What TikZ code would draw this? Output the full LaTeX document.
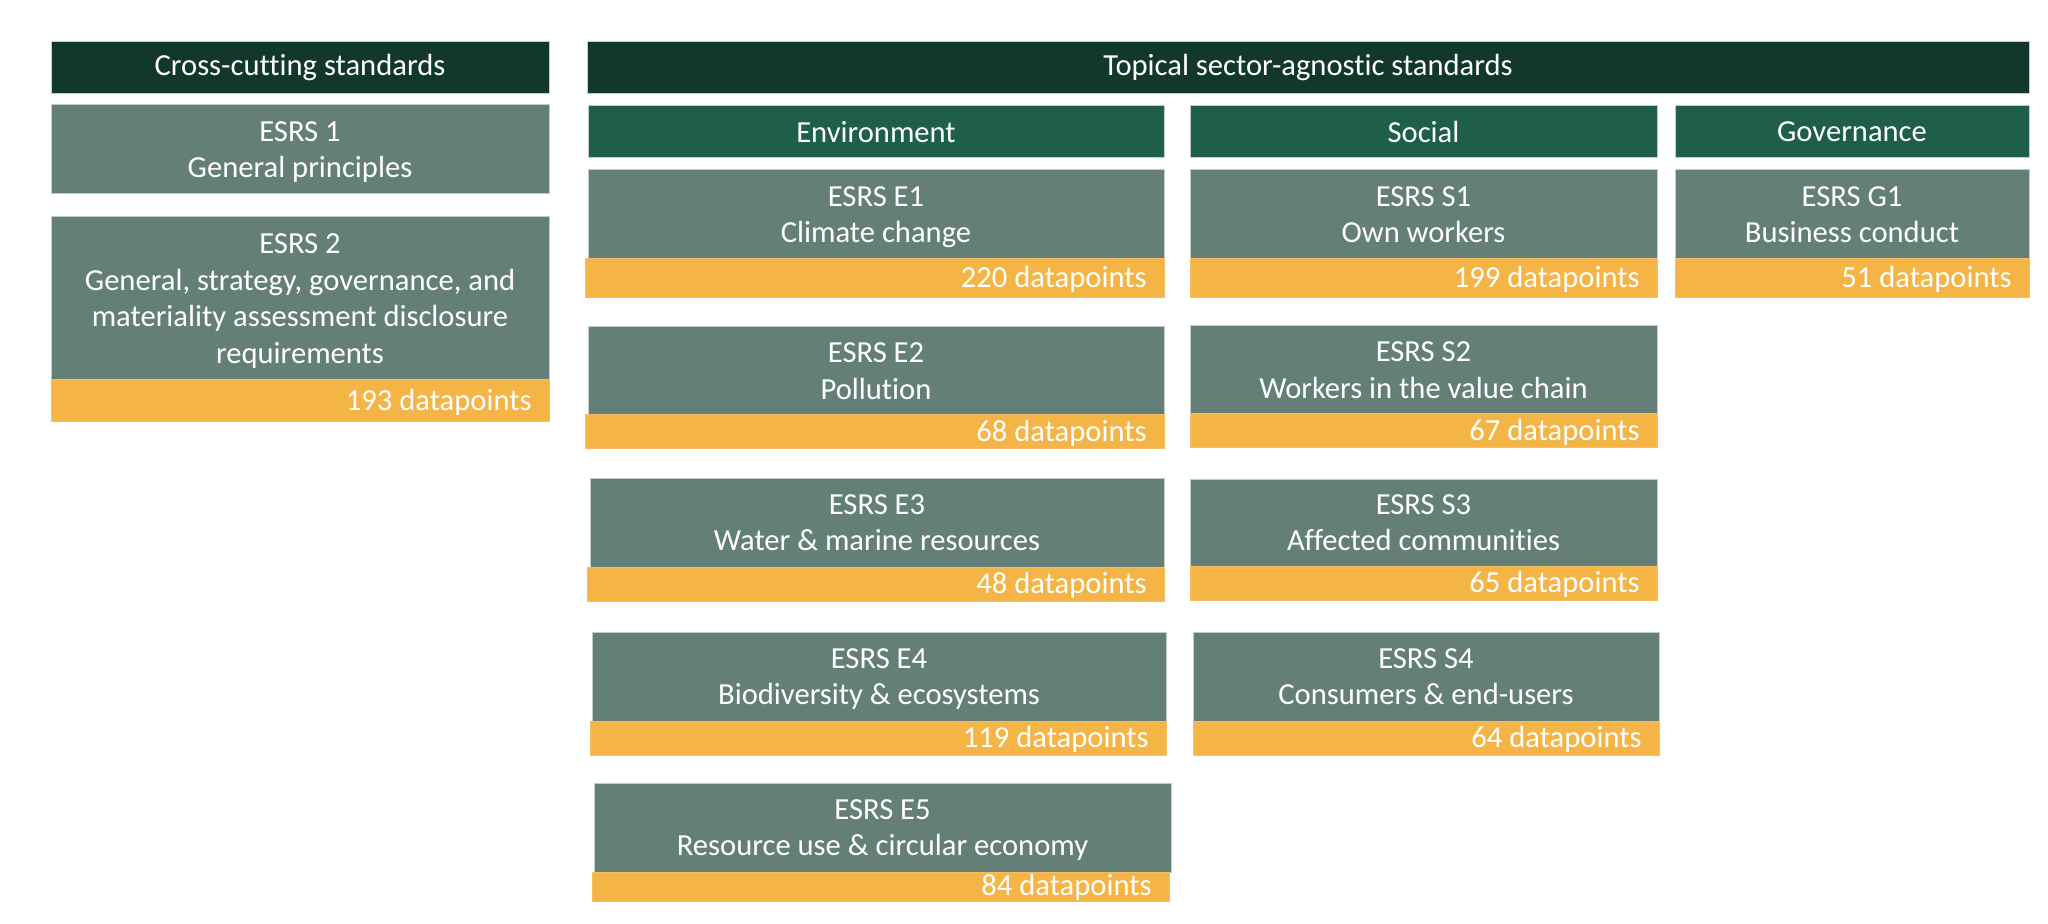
\documentclass[tikz,border=0pt]{standalone}
\usepackage{fontspec}
\setmainfont{Carlito}[Ligatures={NoCommon}]
\definecolor{hdark}{HTML}{12382A}
\definecolor{hsec}{HTML}{1F5F48}
\definecolor{cardgray}{HTML}{647F77}
\definecolor{dporange}{HTML}{F5B446}
\definecolor{edge}{HTML}{C3CCC8}
\newcommand\rbox[7]{\node[#1, minimum width={(#5-#3)*0.5pt}, minimum height={(#6-#4)*0.5pt}] (#2) at ({(#3+#5)/2},{(#4+#6)/2}) {#7};}
\newcommand\dpcount[2]{\node[dptext, anchor=east] (#1t) at ([xshift=-8.5pt,yshift=-0.5pt]#1.east) {#2};}
\tikzset{
  base/.style={rectangle, inner sep=0pt, outer sep=0pt, draw=edge, line width=0.5pt,
    text=white, align=center, font=\fontsize{15.3}{18.3}\selectfont},
  topbox/.style={base, fill=hdark},
  secbox/.style={base, fill=hsec},
  card/.style={base, fill=cardgray, text depth=0pt},
  bar/.style={base, fill=dporange, draw=dporange!85!white},
  dptext/.style={inner sep=0pt, text=white, font=\fontsize{15.3}{18.3}\selectfont},
}
\begin{document}
\begin{tikzpicture}[x=0.5pt, y=-0.5pt]
\useasboundingbox[fill=white] (0,0) rectangle (2048,924);
% headers
\rbox{topbox}{cross}{51}{42}{549}{94}{Cross-cutting standards}
\rbox{topbox}{topical}{587}{42}{2029}{94}{Topical sector-agnostic standards}
\rbox{secbox}{env}{588}{106}{1164}{158}{Environment}
\rbox{secbox}{soc}{1190}{106}{1657}{158}{Social}
\rbox{secbox}{gov}{1675}{106}{2029}{158}{Governance}
% cross-cutting
\rbox{card}{esrs1}{51}{105}{549}{194}{ESRS 1\\General principles}
\rbox{card}{esrs2}{51}{217}{549}{380}{ESRS 2\\General, strategy, governance, and\\materiality assessment disclosure\\requirements}
\rbox{bar}{esrs2d}{51}{380}{549}{422}{}
\dpcount{esrs2d}{193 datapoints}
% environment
\rbox{card}{e1}{588}{170}{1164}{259}{ESRS E1\\Climate change}
\rbox{bar}{e1d}{585}{259}{1164}{298}{}
\dpcount{e1d}{220 datapoints}
\rbox{card}{e2}{588}{327}{1164}{415}{ESRS E2\\Pollution}
\rbox{bar}{e2d}{585}{415}{1164}{449}{}
\dpcount{e2d}{68 datapoints}
\rbox{card}{e3}{590}{478}{1164}{567}{ESRS E3\\Water \& marine resources}
\rbox{bar}{e3d}{587}{567}{1164}{601}{}
\dpcount{e3d}{48 datapoints}
\rbox{card}{e4}{592}{632}{1166}{721}{ESRS E4\\Biodiversity \& ecosystems}
\rbox{bar}{e4d}{590}{721}{1166}{755}{}
\dpcount{e4d}{119 datapoints}
\rbox{card}{e5}{594}{783}{1171}{872}{ESRS E5\\Resource use \& circular economy}
\rbox{bar}{e5d}{592}{872}{1169}{901}{}
\dpcount{e5d}{84 datapoints}
% social
\rbox{card}{s1}{1190}{170}{1657}{259}{ESRS S1\\Own workers}
\rbox{bar}{s1d}{1190}{259}{1657}{298}{}
\dpcount{s1d}{199 datapoints}
\rbox{card}{s2}{1190}{326}{1657}{414}{ESRS S2\\Workers in the value chain}
\rbox{bar}{s2d}{1190}{414}{1657}{448}{}
\dpcount{s2d}{67 datapoints}
\rbox{card}{s3}{1190}{479}{1657}{566}{ESRS S3\\Affected communities}
\rbox{bar}{s3d}{1190}{566}{1657}{600}{}
\dpcount{s3d}{65 datapoints}
\rbox{card}{s4}{1193}{632}{1659}{721}{ESRS S4\\Consumers \& end-users}
\rbox{bar}{s4d}{1193}{721}{1659}{755}{}
\dpcount{s4d}{64 datapoints}
% governance
\rbox{card}{g1}{1675}{170}{2029}{259}{ESRS G1\\Business conduct}
\rbox{bar}{g1d}{1675}{259}{2029}{298}{}
\dpcount{g1d}{51 datapoints}
\end{tikzpicture}
\end{document}
